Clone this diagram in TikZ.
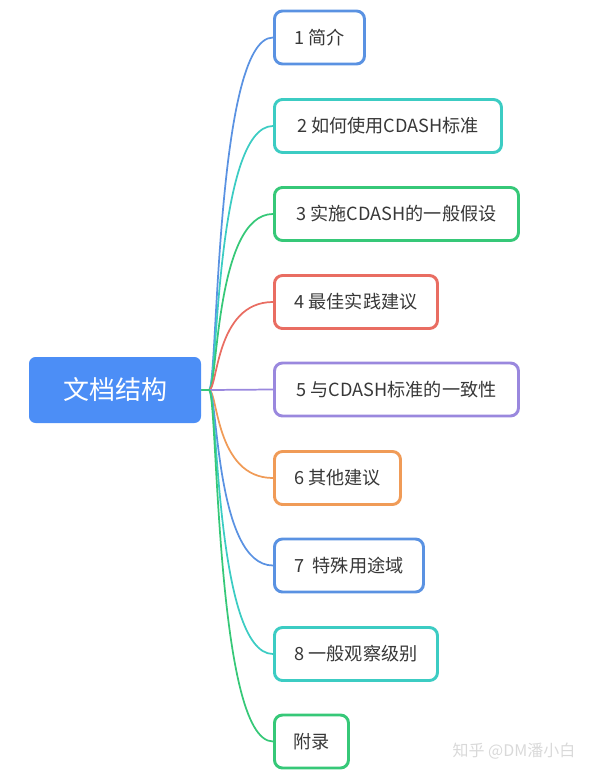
\documentclass[tikz,border=0pt]{standalone}
\usepackage{fontspec}
\setmainfont{Noto Sans CJK SC}
\definecolor{mapblue}{HTML}{5A92E2}
\definecolor{mapteal}{HTML}{3CCCC3}
\definecolor{mapgreen}{HTML}{36C878}
\definecolor{mapred}{HTML}{E96D62}
\definecolor{mappurple}{HTML}{9A88DE}
\definecolor{maporange}{HTML}{F09B57}
\definecolor{rootfill}{HTML}{4C8EF6}
\definecolor{maptext}{HTML}{383838}
\tikzset{
  rootbox/.style={fill=rootfill,text=white,rounded corners=5pt,minimum width=129pt,
    minimum height=49.5pt,font=\fontsize{19.5}{22}\selectfont},
  topicbox/.style={draw=#1,fill=white,line width=2.2pt,rounded corners=6pt,anchor=west,
    minimum height=39.75pt,text=maptext,font=\fontsize{13.6}{16}\selectfont},
  branch/.style={draw=#1,line width=1.3pt}
}
\begin{document}
\begin{tikzpicture}[x=0.75pt,y=-0.75pt]
\useasboundingbox (0,0) rectangle (592,780);
% root and topics
\node[rootbox] (root) at (115,390) {文档结构};
\coordinate (hub) at (209,390);
\node[topicbox=mapblue,minimum width=67.5pt] (s1) at (273,37.5) {1 简介};
\node[topicbox=mapteal,minimum width=170.25pt] (s2) at (273,126) {2 如何使用CDASH标准};
\node[topicbox=mapgreen,minimum width=183pt] (s3) at (273,214) {3 实施CDASH的一般假设};
\node[topicbox=mapred,minimum width=122.25pt] (s4) at (273,302) {4 最佳实践建议};
\node[topicbox=mappurple,minimum width=183pt] (s5) at (273,389.5) {5 与CDASH标准的一致性};
\node[topicbox=maporange,minimum width=94.5pt] (s6) at (273,478) {6 其他建议};
\node[topicbox=mapblue,minimum width=111.75pt] (s7) at (273,565.5) {7\ \ 特殊用途域};
\node[topicbox=mapteal,minimum width=122.25pt] (s8) at (273,654) {8 一般观察级别};
\node[topicbox=mapgreen,minimum width=55.5pt] (s9) at (273,741.5) {附录};
% branches
\draw[branch=mapblue] (root.east) -- (hub) .. controls +(9,0) and +(-58,0) .. (s1.west);
\draw[branch=mapteal] (root.east) -- (hub) .. controls +(9,0) and +(-58,0) .. (s2.west);
\draw[branch=mapgreen] (root.east) -- (hub) .. controls +(9,0) and +(-58,0) .. (s3.west);
\draw[branch=mapred] (root.east) -- (hub) .. controls +(9,0) and +(-58,0) .. (s4.west);
\draw[branch=mappurple] (root.east) -- (hub) -- (s5.west);
\draw[branch=maporange] (root.east) -- (hub) .. controls +(9,0) and +(-58,0) .. (s6.west);
\draw[branch=mapblue] (root.east) -- (hub) .. controls +(9,0) and +(-58,0) .. (s7.west);
\draw[branch=mapteal] (root.east) -- (hub) .. controls +(9,0) and +(-58,0) .. (s8.west);
\draw[branch=mapgreen] (root.east) -- (hub) .. controls +(9,0) and +(-58,0) .. (s9.west);
% watermark
\node[text=black!15,font=\fontsize{12}{14}\selectfont] (mark) at (514,751) {知乎 @DM潘小白};
\end{tikzpicture}
\end{document}
